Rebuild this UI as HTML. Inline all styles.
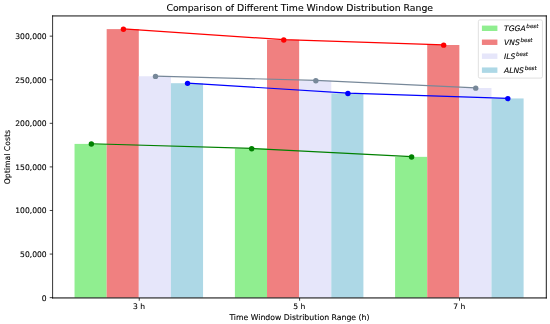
<!DOCTYPE html><html><head><meta charset="utf-8"><title>chart</title><style>html,body{margin:0;padding:0;background:#fff}svg{display:block}text{font-family:"DejaVu Sans","Liberation Sans",sans-serif;fill:#000;stroke:#000;stroke-width:0.1px}</style></head><body>
<svg width="550" height="324" viewBox="0 0 550 324">
<rect width="550" height="324" fill="#fff"/>
<rect x="74.54" y="143.90" width="32.13" height="153.75" fill="#90ee90"/>
<rect x="234.89" y="148.60" width="32.13" height="149.05" fill="#90ee90"/>
<rect x="395.09" y="156.85" width="32.13" height="140.80" fill="#90ee90"/>
<rect x="106.67" y="29.10" width="32.13" height="268.55" fill="#f08080"/>
<rect x="267.02" y="39.80" width="32.13" height="257.85" fill="#f08080"/>
<rect x="427.22" y="45.00" width="32.13" height="252.65" fill="#f08080"/>
<rect x="138.80" y="76.25" width="32.13" height="221.40" fill="#e6e6fa"/>
<rect x="299.15" y="80.60" width="32.13" height="217.05" fill="#e6e6fa"/>
<rect x="459.35" y="88.00" width="32.13" height="209.65" fill="#e6e6fa"/>
<rect x="170.93" y="83.20" width="32.13" height="214.45" fill="#add8e6"/>
<rect x="331.28" y="93.30" width="32.13" height="204.35" fill="#add8e6"/>
<rect x="491.48" y="98.45" width="32.13" height="199.20" fill="#add8e6"/>
<polyline fill="none" stroke="#008000" stroke-width="1.2" points="91.35,143.75 251.69,148.45 411.60,156.70"/>
<circle cx="91.35" cy="144.05" r="2.7" fill="#008000"/>
<circle cx="251.69" cy="148.75" r="2.7" fill="#008000"/>
<circle cx="411.60" cy="157.00" r="2.7" fill="#008000"/>
<polyline fill="none" stroke="#ff0000" stroke-width="1.2" points="123.42,28.95 283.76,39.65 443.67,44.85"/>
<circle cx="123.42" cy="29.25" r="2.7" fill="#ff0000"/>
<circle cx="283.76" cy="39.95" r="2.7" fill="#ff0000"/>
<circle cx="443.67" cy="45.15" r="2.7" fill="#ff0000"/>
<polyline fill="none" stroke="#778899" stroke-width="1.2" points="155.49,76.10 315.83,80.45 475.74,87.85"/>
<circle cx="155.49" cy="76.40" r="2.7" fill="#778899"/>
<circle cx="315.83" cy="80.75" r="2.7" fill="#778899"/>
<circle cx="475.74" cy="88.15" r="2.7" fill="#778899"/>
<polyline fill="none" stroke="#0000ff" stroke-width="1.2" points="187.56,83.05 347.91,93.15 507.81,98.30"/>
<circle cx="187.56" cy="83.35" r="2.7" fill="#0000ff"/>
<circle cx="347.91" cy="93.45" r="2.7" fill="#0000ff"/>
<circle cx="507.81" cy="98.60" r="2.7" fill="#0000ff"/>
<g stroke="#000" stroke-linecap="square">
<line x1="52.6" x2="546.3" y1="15.95" y2="15.95" stroke-width="0.95"/>
<line x1="52.6" x2="546.3" y1="297.95" y2="297.95" stroke-width="1.0"/>
<line x1="52.6" x2="52.6" y1="15.95" y2="297.95" stroke-width="0.8"/>
<line x1="546.3" x2="546.3" y1="15.95" y2="297.95" stroke-width="0.9"/>
</g>
<line x1="49.70" x2="52.6" y1="297.65" y2="297.65" stroke="#000" stroke-width="0.75"/>
<text x="46.65" y="300.55" font-size="7.6" text-anchor="end">0</text>
<line x1="49.70" x2="52.6" y1="254.07" y2="254.07" stroke="#000" stroke-width="0.75"/>
<text x="46.65" y="256.97" font-size="7.6" text-anchor="end">50,000</text>
<line x1="49.70" x2="52.6" y1="210.48" y2="210.48" stroke="#000" stroke-width="0.75"/>
<text x="46.65" y="213.38" font-size="7.6" text-anchor="end">100,000</text>
<line x1="49.70" x2="52.6" y1="166.90" y2="166.90" stroke="#000" stroke-width="0.75"/>
<text x="46.65" y="169.80" font-size="7.6" text-anchor="end">150,000</text>
<line x1="49.70" x2="52.6" y1="123.32" y2="123.32" stroke="#000" stroke-width="0.75"/>
<text x="46.65" y="126.22" font-size="7.6" text-anchor="end">200,000</text>
<line x1="49.70" x2="52.6" y1="79.73" y2="79.73" stroke="#000" stroke-width="0.75"/>
<text x="46.65" y="82.63" font-size="7.6" text-anchor="end">250,000</text>
<line x1="49.70" x2="52.6" y1="36.15" y2="36.15" stroke="#000" stroke-width="0.75"/>
<text x="46.65" y="39.05" font-size="7.6" text-anchor="end">300,000</text>
<line x1="139.25" x2="139.25" y1="297.95" y2="300.75" stroke="#000" stroke-width="0.75"/>
<text x="139.05" y="308.60" font-size="7.6" text-anchor="middle">3 h</text>
<line x1="299.60" x2="299.60" y1="297.95" y2="300.75" stroke="#000" stroke-width="0.75"/>
<text x="299.4" y="308.60" font-size="7.6" text-anchor="middle">5 h</text>
<line x1="459.50" x2="459.50" y1="297.95" y2="300.75" stroke="#000" stroke-width="0.75"/>
<text x="459.3" y="308.60" font-size="7.6" text-anchor="middle">7 h</text>
<text x="299.75" y="11.3" font-size="9.32" text-anchor="middle">Comparison of Different Time Window Distribution Range</text>
<text x="299.45" y="319.6" font-size="7.75" text-anchor="middle">Time Window Distribution Range (h)</text>
<text transform="translate(9.8,157.07) rotate(-90)" font-size="7.75" text-anchor="middle">Optimal Costs</text>
<rect x="478.35" y="19.9" width="64.1" height="58.2" rx="1.6" ry="1.6" fill="#fff" fill-opacity="0.8" stroke="#d2d2d2" stroke-width="0.7"/>
<rect x="481.9" y="25.60" width="15.5" height="5.4" fill="#90ee90"/>
<text x="504.0" y="30.80" font-size="7.6" font-style="italic">TGGA<tspan dy="-3.15" dx="0.75" font-size="5.55">best</tspan></text>
<rect x="481.9" y="39.55" width="15.5" height="5.4" fill="#f08080"/>
<text x="504.0" y="44.75" font-size="7.6" font-style="italic">VNS<tspan dy="-3.15" dx="0.75" font-size="5.55">best</tspan></text>
<rect x="481.9" y="53.50" width="15.5" height="5.4" fill="#e6e6fa"/>
<text x="504.0" y="58.70" font-size="7.6" font-style="italic">ILS<tspan dy="-3.15" dx="0.75" font-size="5.55">best</tspan></text>
<rect x="481.9" y="67.45" width="15.5" height="5.4" fill="#add8e6"/>
<text x="504.0" y="72.65" font-size="7.6" font-style="italic">ALNS<tspan dy="-3.15" dx="0.75" font-size="5.55">best</tspan></text>
</svg></body></html>
